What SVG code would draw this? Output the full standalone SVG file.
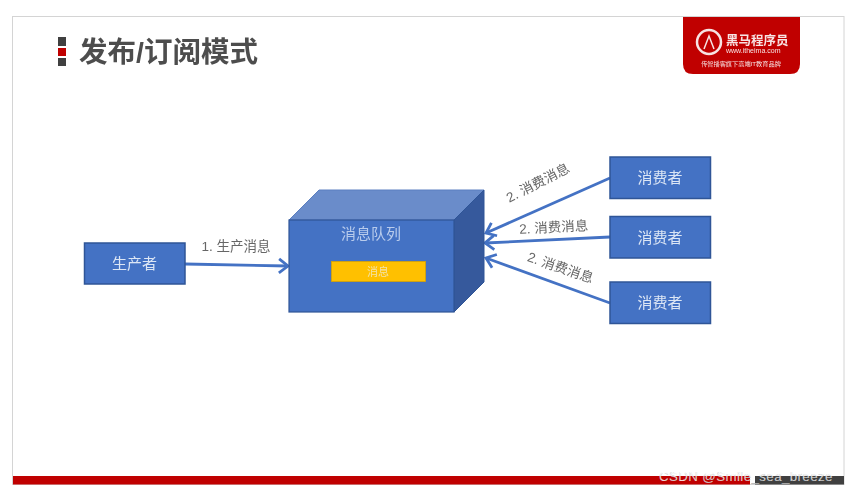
<svg xmlns="http://www.w3.org/2000/svg" width="847" height="491" viewBox="0 0 847 491">
<style>
text{font-family:"Liberation Sans","Noto Sans CJK SC",sans-serif}
.box{fill:#4472c4;stroke:#2f5597;stroke-width:1.5}
.lbl{fill:#dce6f5;font-size:15px;text-anchor:middle}
.cap{fill:#666;font-size:13.500px;text-anchor:middle}
.c{fill:none;stroke:#4472c4;stroke-width:2.800;marker-end:url(#a)}
</style>
<defs>
<marker id="a" markerUnits="userSpaceOnUse" markerWidth="18" markerHeight="18" refX="12" refY="9" orient="auto">
<path d="M3 2L12 9L3 16" fill="none" stroke="#4472c4" stroke-width="2.800"/>
</marker>
<filter id="s" x="-5%" y="-20%" width="110%" height="140%"><feGaussianBlur stdDeviation="0.45"/></filter>
</defs>
<rect width="847" height="491" fill="#fff"/>
<rect x="12.500" y="16.500" width="831.500" height="468" fill="#fff" stroke="#d4d4d4"/>
<g id="title">
<rect x="58" y="37" width="8" height="9" fill="#404040"/>
<rect x="58" y="48" width="8" height="8" fill="#c00000"/>
<rect x="58" y="58" width="8" height="8" fill="#404040"/>
<text x="79" y="62" font-size="28.500" font-weight="700" fill="#4d4d4d" filter="url(#s)">发布/订阅模式</text>
</g>
<g id="logo">
<path d="M683 17H800V64Q800 74 790 74H693Q683 74 683 64Z" fill="#c00000"/>
<circle cx="709" cy="42" r="12" fill="none" stroke="#f7e3e3" stroke-width="2.500"/>
<path d="M704 49L709 36L714 49" fill="none" stroke="#f7e3e3" stroke-width="1.500"/>
<text x="726" y="45" font-size="12.500" font-weight="700" fill="#f7e3e3" filter="url(#s)">黑马程序员</text>
<text x="726" y="53" font-size="7" fill="#f7e3e3" filter="url(#s)">www.itheima.com</text>
<text x="741" y="66" font-size="6.200" fill="#f7e3e3" text-anchor="middle" filter="url(#s)">传智播客旗下高端IT教育品牌</text>
</g>
<g id="connectors">
<path class="c" d="M185 264L288 266"/>
<path class="c" d="M610 178L486 233"/>
<path class="c" d="M610 237L485 243"/>
<path class="c" d="M610 303L486 258"/>
</g>
<g id="producer">
<rect class="box" x="84.500" y="243" width="100.500" height="41"/>
<text class="lbl" x="134.500" y="269" filter="url(#s)">生产者</text>
</g>
<g id="queue">
<path d="M289 220L319 190H484L454 220Z" fill="#6a8cca" stroke="#5b7fc0"/>
<path d="M454 220L484 190V282L454 312Z" fill="#36599c" stroke="#2f5597"/>
<rect x="289" y="220" width="165" height="92" fill="#4472c4" stroke="#2f5597" stroke-width="1.200"/>
<text x="371" y="239" font-size="15" fill="#b8cbec" text-anchor="middle" filter="url(#s)">消息队列</text>
<rect x="331.500" y="261.500" width="94" height="20" fill="#ffc000" stroke="#d9a300" stroke-width="0.800"/>
<text x="378" y="276" font-size="11" fill="#f2e3ab" text-anchor="middle" filter="url(#s)">消息</text>
</g>
<g id="consumer1">
<rect class="box" x="610" y="157" width="100.500" height="41.500"/>
<text class="lbl" x="660" y="183" filter="url(#s)">消费者</text>
</g>
<g id="consumer2">
<rect class="box" x="610" y="216.500" width="100.500" height="41.500"/>
<text class="lbl" x="660" y="243" filter="url(#s)">消费者</text>
</g>
<g id="consumer3">
<rect class="box" x="610" y="282" width="100.500" height="41.500"/>
<text class="lbl" x="660" y="308" filter="url(#s)">消费者</text>
</g>
<g id="labels" filter="url(#s)">
<text class="cap" x="236" y="251">1. 生产消息</text>
<text class="cap" transform="translate(540 187) rotate(-27)">2. 消费消息</text>
<text class="cap" transform="translate(554 232) rotate(-3)">2. 消费消息</text>
<text class="cap" transform="translate(559 272) rotate(19)">2. 消费消息</text>
</g>
<g id="footer">
<rect x="13" y="476" width="737" height="8.500" fill="#c00000"/>
<rect x="755" y="476" width="89" height="8.500" fill="#404040"/>
<text x="659" y="481" font-size="13.300" fill="#fff" fill-opacity="0.85" stroke="#888" stroke-width="0.150" letter-spacing="0.4">CSDN @Smile_sea_breeze</text>
</g>
</svg>
